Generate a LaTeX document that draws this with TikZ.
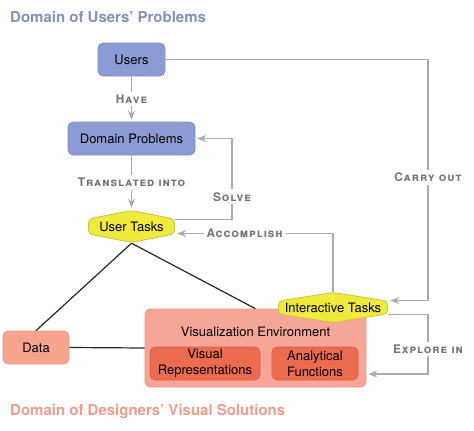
\documentclass[tikz,border=0pt]{standalone}
\usepackage{fontspec}
\setmainfont{TeX Gyre Heros}
\newfontfamily\lblfont[LetterSpace=8]{TeX Gyre Heros}
\usetikzlibrary{arrows.meta}
\definecolor{userblue}{HTML}{8D9BD5}
\definecolor{useredge}{HTML}{7C8AC8}
\definecolor{usertitle}{HTML}{8191C0}
\definecolor{taskyellow}{HTML}{F0EA3A}
\definecolor{taskedge}{HTML}{C9C24A}
\definecolor{envsalmon}{HTML}{F6A696}
\definecolor{envedge}{HTML}{EA9483}
\definecolor{partorange}{HTML}{EC6A4D}
\definecolor{partedge}{HTML}{D8604A}
\definecolor{designtitle}{HTML}{F09C8C}
\definecolor{flowgray}{HTML}{ABABAB}
\definecolor{lblgray}{HTML}{747474}
\begin{document}
\begin{tikzpicture}[x=1pt,y=-1pt,
    box/.style={rounded corners=5pt, minimum height=33pt, inner sep=2pt, font=\fontsize{13}{16}\selectfont, align=center},
    userbox/.style={box, fill=userblue, draw=useredge, line width=0.6pt},
    envbox/.style={box, fill=envsalmon, draw=envedge, line width=0.6pt},
    partbox/.style={box, fill=partorange, draw=partedge, line width=0.6pt},
    task/.style={minimum width=#1, minimum height=33pt, inner sep=0pt, font=\fontsize{13}{16}\selectfont,
      path picture={\filldraw[fill=taskyellow, draw=taskedge, line width=0.8pt, rounded corners=4pt]
        ([yshift=-0.5pt]path picture bounding box.north)
        -- ([xshift=-0.5pt,yshift=-9pt]path picture bounding box.north east)
        -- ([xshift=-0.5pt,yshift=9pt]path picture bounding box.south east)
        -- ([yshift=0.5pt]path picture bounding box.south)
        -- ([xshift=0.5pt,yshift=9pt]path picture bounding box.south west)
        -- ([xshift=0.5pt,yshift=-9pt]path picture bounding box.north west) -- cycle;}},
    flow/.style={flowgray, line width=1.2pt, -{Stealth[length=9pt,width=7pt]}, shorten >=2pt},
    tie/.style={black!85, line width=1.2pt},
    lbl/.style={fill=white, text=lblgray, inner sep=3pt, font=\lblfont\bfseries\scshape\fontsize{11.8}{14}\selectfont},
    title/.style={anchor=west, inner sep=0pt, font=\bfseries\fontsize{15}{18}\selectfont}]
  \useasboundingbox (0,0) rectangle (474,431);
  % titles
  \node[title, text=usertitle] (toptitle) at (10,17) {Domain of Users’ Problems};
  \node[title, text=designtitle] (bottomtitle) at (10,412) {Domain of Designers’ Visual Solutions};
  % users' side
  \node[userbox, minimum width=67pt] (users) at (131.5,59.5) {Users};
  \node[userbox, minimum width=127pt] (dp) at (131.5,138.5) {Domain Problems};
  \node[task=87pt] (ut) at (131.5,226.5) {User Tasks};
  % designers' side
  \node[envbox, fill=envsalmon!95!orange, minimum width=66pt] (data) at (36,347.5) {Data};
  \node[envbox, minimum width=221pt, minimum height=78pt] (ve) at (255.5,348) {};
  \node[font=\fontsize{13}{16}\selectfont] (vetitle) at (255.5,332) {Visualization Environment};
  \node[partbox, minimum width=110pt] (vr) at (205,363.5) {Visual\\Representations};
  \node[partbox, minimum width=86pt] (af) at (315,363.5) {Analytical\\Functions};
  \node[task=110pt, minimum height=31pt] (it) at (333,307.5) {Interactive Tasks};
  % triangle
  \draw[tie] (ut.south) -- (data.north);
  \draw[tie] (ut.south) -- (ve.north);
  \draw[tie] (data.east) -- (ve.west);
  % flows
  \draw[flow] (users) -- node[lbl]{Have} (dp);
  \draw[flow] (dp) -- node[lbl]{Translated into} (ut);
  \coordinate (solvecorner) at (232,138.5);
  \draw[flow] ([yshift=7pt]ut.east) -| node[lbl,pos=0.64]{Solve} (solvecorner) -- (dp.east);
  \draw[flow] (it.north) |- node[lbl,pos=0.78]{Accomplish} ([yshift=-7pt]ut.east);
  \coordinate (carrycorner) at (428,59.5);
  \draw[flow] (users.east) -- (carrycorner) |- node[lbl,pos=0.245]{Carry out} ([yshift=7pt]it.east);
  \coordinate (explorecorner) at (428,374);
  \draw[flow] ([yshift=-7pt]it.east) -| node[lbl,pos=0.79]{Explore in} (explorecorner) -- ([yshift=-26pt]ve.east);
\end{tikzpicture}
\end{document}
